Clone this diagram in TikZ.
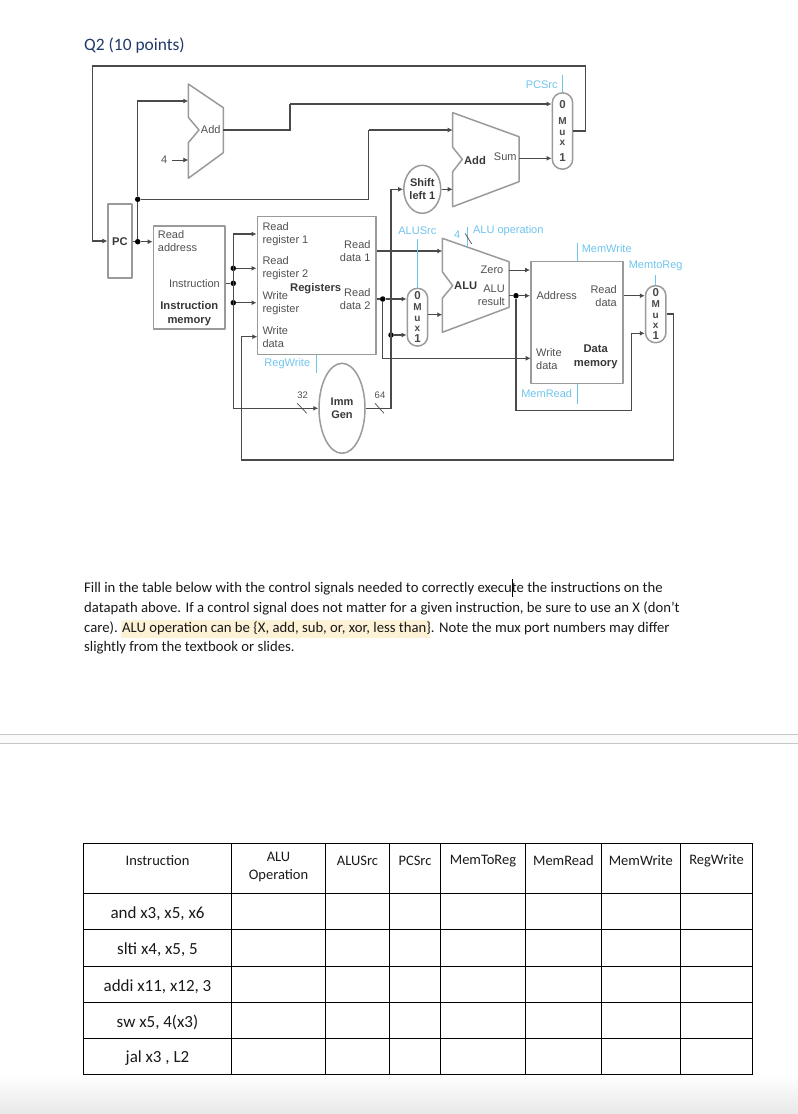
\documentclass[tikz,border=0pt]{standalone}
\usepackage{xcolor}
\usepackage{fontspec}
\setmainfont{Carlito}
\newfontfamily\diagfont{Liberation Sans}
\usetikzlibrary{arrows.meta, positioning, shapes.geometric}

\definecolor{wirecol}{HTML}{4A4A4A}
\definecolor{boxcol}{HTML}{9A9A9A}
\definecolor{labelcol}{HTML}{505050}
\definecolor{ctrlcol}{HTML}{6FC4EE}
\definecolor{titlecol}{HTML}{1F3A68}
\definecolor{markcol}{HTML}{FDF1D6}

\newcommand{\muxtext}[1]{{\fontsize{11.5}{10.3}\selectfont 0}\\[#1]M\\u\\x\\[#1]{\fontsize{11.5}{10.3}\selectfont 1}}

\begin{document}
\begin{tikzpicture}[
			x=1pt, y=-1pt,
			every node/.style={inner sep=0pt},
			unit/.style={draw=boxcol, line width=1.5pt, line join=round},
			box/.style={
				unit, rectangle
			},
			bubble/.style={
				unit, ellipse, align=center,
				font=\diagfont\bfseries\fontsize{11}{13.2}\selectfont, text=labelcol!70!black
			},
			mux/.style={
				box, rounded corners=10pt, minimum width=20.4pt, align=center,
				font=\diagfont\bfseries\fontsize{10}{10.3}\selectfont, text=wirecol
			},
			lbl/.style={
				font=\diagfont\fontsize{11}{13}\selectfont, text=labelcol
			},
			lblbold/.style={
				font=\diagfont\bfseries\fontsize{11.2}{13.4}\selectfont, text=labelcol!70!black
			},
			ctrllbl/.style={
				font=\diagfont\fontsize{11}{13}\selectfont, text=ctrlcol
			},
			wire/.style={draw=wirecol, line width=1.5pt},
			arrow/.style={
				wire, -{Latex[length=5pt,width=5pt]}
			},
			ctrl/.style={draw=ctrlcol, line width=1pt},
			dot/.style={circle, fill=black, minimum size=5.5pt},
			para/.style={anchor=west, font=\fontsize{14.7}{16}\selectfont, text=black!90},
			cell/.style={font=\fontsize{14.5}{17.6}\selectfont, text=black!90, align=center},
			row/.style={font=\fontsize{17}{18}\selectfont, text=black!90}
			]
			\useasboundingbox (0,0) rectangle (798,1114);
			
			% page furniture
			\shade[top color=white, bottom color=black!9] (0,1075) rectangle (798,1114);
			\fill[black!2] (0,734) rectangle (798,743);
			\draw[black!22, line width=0.8pt] (0,734.3) -- (798,734.3);
			\draw[black!22, line width=0.8pt] (0,743.3) -- (798,743.3);
			\fill[markcol] (121,620) rectangle (430,637.7);
			
			\node[anchor=west, font=\fontsize{17.4}{19}\selectfont, text=titlecol] (title) at (84,46) {Q2 (10 points)};
			
			% units
			\node[box, minimum width=23.6pt, minimum height=74pt] (pc) at (120,241) {};
			\node[lblbold] (pctext) at (120,241.7) {PC};
			\node[box, minimum width=71.7pt, minimum height=103pt] (imem) at (189.2,277.5) {};
			\node[box, minimum width=118.7pt, minimum height=137.6pt] (regs) at (316.6,285.5) {};
			\node[box, minimum width=92.3pt, minimum height=122pt] (dmem) at (576.9,322.3) {};
			\node[bubble, minimum width=37pt, minimum height=48pt] (shift) at (422.3,189.3) {Shift\\left 1};
			\node[bubble, minimum width=46pt, minimum height=90pt] (imm) at (342,408.3) {Imm\\Gen};
			\node[mux, minimum height=76.3pt] (muxpc) at (562.5,131) {\muxtext{5.5pt}};
			\node[mux, minimum height=57.7pt] (muxalu) at (417.5,317.2) {\muxtext{1pt}};
			\node[mux, minimum height=57pt] (muxmem) at (655.7,314.2) {\muxtext{1pt}};
			
			\draw[unit] (188.3,84) -- (223.3,107.7) -- (223.3,152.7) -- (188.3,178.3) -- (188.3,142.7) -- (199,130) -- (188.3,117.3) -- cycle;
			\draw[unit] (452.7,112.7) -- (519,136.7) -- (519,181.7) -- (452.7,206.7) -- (452.7,171.7) -- (462.3,159.3) -- (452.7,147.3) -- cycle;
			\draw[unit] (442.3,238.3) -- (509,261.7) -- (509,307.3) -- (442.3,332.3) -- (442.3,298.3) -- (452.7,285.7) -- (442.3,271.7) -- cycle;
			
			% unit labels
			\node[lbl] (addpc) at (210.7,130) {Add};
			\node[lblbold] (addbr) at (475,160) {Add};
			\node[lbl] (sum) at (505.3,157) {Sum};
			\node[lblbold] (alu) at (465.7,285.7) {ALU};
			\node[lbl] (zero) at (492,270) {Zero};
			\node[lbl, align=right, anchor=east] (alures) at (505,295.5) {ALU\\result};
			\node[lbl] (four) at (164.3,160) {4};
			\node[lbl, align=left, anchor=west] (raddr) at (157.7,241.3) {Read\\address};
			\node[lbl, anchor=east] (instr) at (220,283.3) {Instruction};
			\node[lblbold, align=center] (imemtext) at (189.3,313.7) {Instruction\\memory};
			\node[lbl, align=left, anchor=west] (rr1) at (262.3,234.3) {Read\\register 1};
			\node[lbl, align=left, anchor=west] (rr2) at (262.3,268.3) {Read\\register 2};
			\node[lbl, align=left, anchor=west] (wr) at (262.3,302.7) {Write\\register};
			\node[lbl, align=left, anchor=west] (wd) at (262.3,337) {Write\\data};
			\node[lbl, align=right, anchor=east] (rd1) at (370.7,251.3) {Read\\data 1};
			\node[lbl, align=right, anchor=east] (rd2) at (370.7,298.8) {Read\\data 2};
			\node[lblbold] (regtext) at (315.7,288.3) {Registers};
			\node[lbl] (addrtext) at (556.7,295.7) {Address};
			\node[lbl, align=right, anchor=east] (mrd) at (617,295.7) {Read\\data};
			\node[lbl, align=left, anchor=west] (mwd) at (536,358.7) {Write\\data};
			\node[lblbold, align=center] (dmemtext) at (595.7,357) {Data\\memory};
			\node[lbl, font=\diagfont\fontsize{9.5}{11}\selectfont] (w32) at (302.7,395.7) {32};
			\node[lbl, font=\diagfont\fontsize{9.5}{11}\selectfont] (w64) at (380,395.7) {64};
			
			% control labels
			\node[ctrllbl] (pcsrc) at (541.7,85) {PCSrc};
			\node[ctrllbl] (alusrc) at (417.3,231) {ALUSrc};
			\node[ctrllbl] (aluop) at (508.3,231) {ALU operation};
			\node[ctrllbl] (four2) at (457.3,235) {4};
			\node[ctrllbl] (memwrite) at (606.7,248.3) {MemWrite};
			\node[ctrllbl] (memtoreg) at (655.7,265.7) {MemtoReg};
			\node[ctrllbl] (memread) at (546.7,394) {MemRead};
			\node[ctrllbl] (regwrite) at (287.3,364) {RegWrite};
			
			% ports and bends
			\coordinate (pctop) at (585.7,66);
			\coordinate (pcleft) at (92.3,66);
			\coordinate (addpcin1) at (188.3,101);
			\coordinate (addpcin2) at (188.3,160);
			\coordinate (addpcout) at (223.3,130);
			\coordinate (seqbend) at (290,104);
			\coordinate (brbend) at (368.7,130);
			\coordinate (addbrin1) at (452.7,130);
			\coordinate (addbrin2) at (452.7,189.3);
			\coordinate (addbrout) at (519,158.3);
			\coordinate (immtop) at (391,189.3);
			\coordinate (bustop) at (233.3,234);
			\coordinate (busbot) at (233.3,408.3);
			\coordinate (aluin1) at (442.3,251);
			\coordinate (aluin2) at (442.3,314.7);
			\coordinate (aluzero) at (509,270);
			\coordinate (aluout) at (509,295.7);
			\coordinate (bypasslow) at (631.7,410.7);
			\coordinate (bypassup) at (631.7,333.3);
			\coordinate (wbright) at (673.3,460);
			\coordinate (wbleft) at (241.7,460);
			\coordinate (regwd) at (257.3,336.7);
			\coordinate (memwd) at (530.7,358.3);
			
			\node[dot] (pcdot) at (137.7,241.7) {};
			\node[dot] (pcupdot) at (137.7,199.3) {};
			\node[dot] (rr2dot) at (233.3,268.3) {};
			\node[dot] (instrdot) at (233.3,283.3) {};
			\node[dot] (wrdot) at (233.3,302.7) {};
			\node[dot] (rd2dot) at (382.7,299) {};
			\node[dot] (immdot) at (391,335) {};
			\node[dot] (aludot) at (516,295.7) {};
			
			% next pc
			\draw[arrow] (muxpc.east) -| (pctop) -- (pcleft) |- (pc.west);
			\draw[wire] (pc.east |- pcdot) -- (pcdot);
			\draw[arrow] (pcdot) -- (imem.west |- pcdot);
			\draw[wire] (pcdot) -- (pcupdot);
			\draw[arrow] (pcupdot) |- (addpcin1);
			\draw[arrow, line width=0.8pt, shorten <=4pt] (four.east) -- (addpcin2);
			\draw[wire] (addpcout) -| (seqbend);
			\draw[arrow] (seqbend) -- (muxpc.west |- seqbend);
			\draw[wire] (pcupdot) -| (brbend);
			\draw[arrow] (brbend) -- (addbrin1);
			\draw[arrow] (shift.east) -- (addbrin2);
			\draw[arrow] (addbrout) -- (muxpc.west |- addbrout);
			
			% instruction fields
			\draw[wire] (imem.east |- instrdot) -- (instrdot);
			\draw[arrow] (bustop) -- (regs.west |- bustop);
			\draw[arrow] (rr2dot) -- (regs.west |- rr2dot);
			\draw[arrow] (wrdot) -- (regs.west |- wrdot);
			\draw[wire] (bustop) -- (busbot);
			\draw[arrow] (busbot) -- (imm.west);
			
			% register read
			\draw[arrow] (regs.east |- aluin1) -- (aluin1);
			\draw[wire] (regs.east |- rd2dot) -- (rd2dot);
			\draw[arrow] (rd2dot) -- (muxalu.west |- rd2dot);
			\draw[arrow] (rd2dot) |- (memwd);
			\draw[arrow] (imm.east) -| (immtop) -- (shift.west);
			\draw[arrow] (immdot) -- (muxalu.west |- immdot);
			\draw[arrow] (muxalu.east |- aluin2) -- (aluin2);
			
			% memory and write back
			\draw[arrow, line width=0.8pt] (aluzero) -- (dmem.west |- aluzero);
			\draw[wire] (aluout) -- (aludot);
			\draw[arrow] (aludot) -- (dmem.west |- aludot);
			\draw[wire] (aludot) |- (bypasslow) -- (bypassup);
			\draw[arrow] (bypassup) -- (muxmem.west |- bypassup);
			\draw[arrow] (dmem.east |- aludot) -- (muxmem.west |- aludot);
			\draw[arrow] (muxmem.east) -| (wbright) -- (wbleft) |- (regwd);
			
			% bus width ticks
			\draw[wirecol, line width=0.7pt] (297.3,403.3) -- (306.7,413.3);
			\draw[wirecol, line width=0.7pt] (375,403.3) -- (384,413.3);
			
			% control lines
			\coordinate (pcsrctop) at (562.5,75);
			\coordinate (alusrctop) at (417.5,239.3);
			\coordinate (optop) at (467.7,227.3);
			\coordinate (opbot) at (467.7,247.2);
			\coordinate (mwtop) at (577.3,242.7);
			\coordinate (mrbot) at (577.3,404.3);
			\coordinate (m2rtop) at (655.7,275);
			\coordinate (rwbot) at (316.3,372.7);
			\draw[ctrl] (pcsrctop) -- (muxpc.north);
			\draw[ctrl] (alusrctop) -- (muxalu.north);
			\draw[ctrl] (optop) -- (opbot);
			\draw[wirecol, line width=0.7pt] (465.2,233.5) -- (471.7,244);
			\draw[ctrl] (mwtop) -- (mwtop |- dmem.north);
			\draw[ctrl] (mrbot) -- (mrbot |- dmem.south);
			\draw[ctrl] (m2rtop) -- (muxmem.north);
			\draw[ctrl] (rwbot) -- (rwbot |- regs.south);
			
			% question text
			\node[para] (line1) at (84,589) {Fill in the table below with the control signals needed to correctly execute the instructions on the};
			\node[para] (line2) at (84,608.5) {datapath above. If a control signal does not matter for a given instruction, be sure to use an X (don’t};
			\node[para] (line3) at (84,628) {care). ALU operation can be \{X, add, sub, or, xor, less than\}. Note the mux port numbers may differ};
			\node[para] (line4) at (84,647.5) {slightly from the textbook or slides.};
			\draw[black, line width=1pt] (512.4,579.3) -- (512.4,596.7);
			
			% table
			\draw[black, line width=1pt] (83.4,843.3) rectangle (752.6,1074.3);
			\foreach \y in {893.3,929.3,966.3,1002.3,1038.3}
				\draw[black, line width=1pt] (83.4,\y) -- (752.6,\y);
			\foreach \x in {231.6,325.4,389.6,440.5,525.4,601.3,680.3}
				\draw[black, line width=1pt] (\x,843.3) -- (\x,1074.3);
			\node[cell] (hinstr) at (157.5,861) {Instruction};
			\node[cell, anchor=north] (halu) at (278.5,852) {ALU\\Operation};
			\node[cell] (halusrc) at (357.5,861) {ALUSrc};
			\node[cell] (hpcsrc) at (415,861) {PCSrc};
			\node[cell] (hm2r) at (483,861) {MemToReg};
			\node[cell] (hmr) at (563.4,861) {MemRead};
			\node[cell] (hmw) at (640.8,861) {MemWrite};
			\node[cell] (hrw) at (716.5,861) {RegWrite};
			\node[row] (r1) at (157.5,914) {and x3, x5, x6};
			\node[row] (r2) at (157.5,950) {slti x4, x5, 5};
			\node[row] (r3) at (157.5,986.5) {addi x11, x12, 3};
			\node[row] (r4) at (157.5,1022.5) {sw x5, 4(x3)};
			\node[row] (r5) at (157.5,1058.5) {jal x3 , L2};
			
		\end{tikzpicture}
\end{document}
